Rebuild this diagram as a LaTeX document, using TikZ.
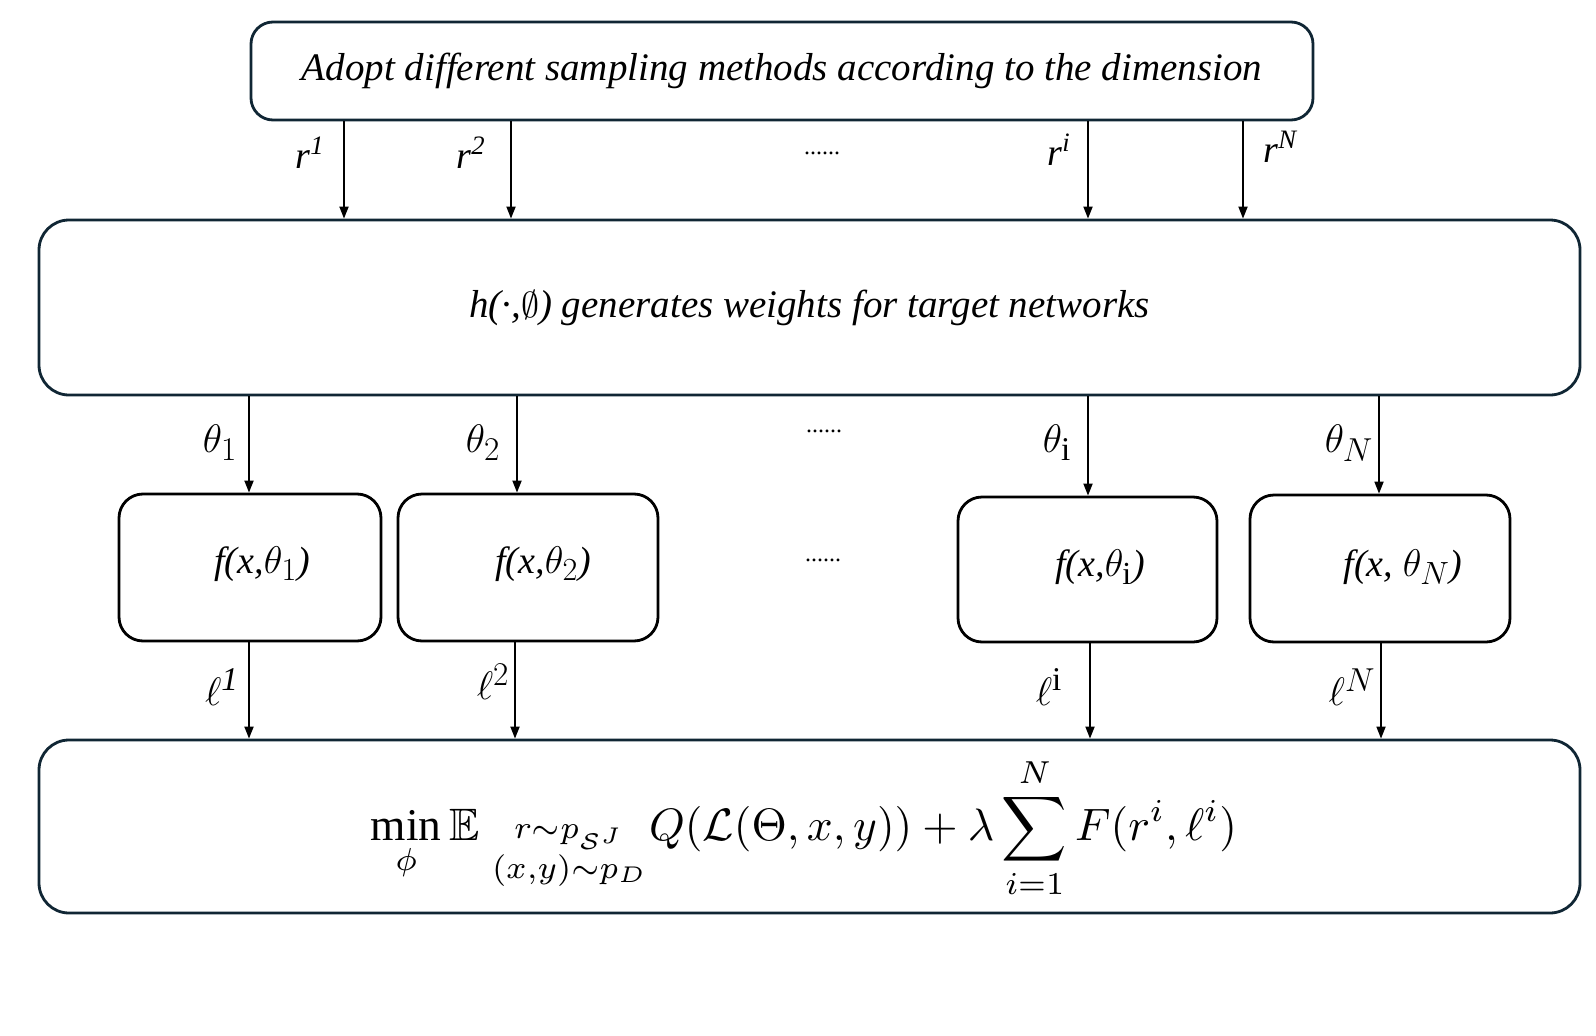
\RequirePackage{fix-cm}
\documentclass[tikz,border=0pt]{standalone}
\usepackage{amsmath,amssymb}
\usepackage{graphicx}
\usepackage{fontspec}
\setmainfont{Liberation Serif}
\usetikzlibrary{arrows.meta,calc}
\definecolor{navy}{RGB}{16,38,52}
\newcommand{\mymath}[2]{\scalebox{#1}{\fontsize{24.88}{30}\selectfont$#2$}}
\begin{document}
\begin{tikzpicture}[x=1pt,y=-1pt,
  bigbox/.style={draw=navy,line width=2.8pt,rounded corners=22pt,inner sep=0pt},
  fbox/.style={draw=black,line width=2.8pt,rounded corners=24pt,inner sep=0pt,minimum width=260pt,minimum height=147pt},
  arr/.style={draw=black,line width=1.8pt,-{Triangle[length=12pt,width=9pt]}},
  lab/.style={inner sep=0pt,font=\fontsize{38}{44}\selectfont},
  dots/.style={inner sep=0pt,font=\fontsize{24}{28}\selectfont}]
\useasboundingbox (0,0) rectangle (1596,1036);
\fill[white] (0,0) rectangle (1596,1036);
% boxes
\node[bigbox,minimum width=1062pt,minimum height=98pt] (top) at (782,71)
  {\fontsize{39}{46}\selectfont\itshape Adopt different sampling methods according to the dimension};
\node[bigbox,rounded corners=30pt,minimum width=1541pt,minimum height=175pt] (mid) at (809.5,307.5)
  {\fontsize{39}{46}\selectfont\itshape h(·,\mymath{1.45}{\emptyset}) generates weights for target networks};
\node[bigbox,rounded corners=30pt,minimum width=1541pt,minimum height=173pt] (bot) at (809.5,826.5) {};
\node[inner sep=0pt] (eq) at (804,828) {\resizebox{866pt}{!}{$\displaystyle \min_{\phi}\mathbb{E}\;_{\substack{r\sim p_{\mathcal{S}^J}\\ (x,y)\sim p_D}} Q(\mathcal{L}(\Theta,x,y))+\lambda\sum_{i=1}^{N}F(r^i,\ell^i)$}};
\node[fbox,minimum width=262pt] (f1) at (250,567.5) {};
\node[fbox] (f2) at (528,567.5) {};
\node[fbox,minimum width=259pt,minimum height=145pt] (fi) at (1087.5,569.5) {};
\node[fbox] (fN) at (1380,568.5) {};
% f texts
\node[lab] (tf1) at (262,564) {\itshape f(x,\mymath{1.55}{\theta_1})};
\node[lab] (tf2) at (543,564) {\itshape f(x,\mymath{1.55}{\theta_2})};
\node[lab] (tfi) at (1100,567) {\itshape f(x,\mymath{1.55}{\theta_{\mathrm{i}}})};
\node[lab] (tfN) at (1403,567) {\itshape f(x, \mymath{1.55}{\theta_N})};
% column coordinates
\coordinate (ra) at (344,0);
\coordinate (rb) at (511,0);
\coordinate (rc) at (1088,0);
\coordinate (rd) at (1243,0);
\coordinate (ta) at (249,0);
\coordinate (tb) at (517,0);
\coordinate (tc) at (1088,0);
\coordinate (td) at (1379,0);
\coordinate (la) at (249,0);
\coordinate (lb) at (515,0);
\coordinate (lc) at (1090,0);
\coordinate (ld) at (1381,0);
% arrows top -> mid
\draw[arr] (top.south -| ra) -- (mid.north -| ra);
\draw[arr] (top.south -| rb) -- (mid.north -| rb);
\draw[arr] (top.south -| rc) -- (mid.north -| rc);
\draw[arr] (top.south -| rd) -- (mid.north -| rd);
% arrows mid -> f
\draw[arr] (mid.south -| ta) -- (f1.north -| ta);
\draw[arr] (mid.south -| tb) -- (f2.north -| tb);
\draw[arr] (mid.south -| tc) -- (fi.north -| tc);
\draw[arr] (mid.south -| td) -- (fN.north -| td);
% arrows f -> bot
\draw[arr] (f1.south -| la) -- (bot.north -| la);
\draw[arr] (f2.south -| lb) -- (bot.north -| lb);
\draw[arr] (fi.south -| lc) -- (bot.north -| lc);
\draw[arr] (fN.south -| ld) -- (bot.north -| ld);
% labels r
\node[lab] (r1) at (310,153) {\itshape r\textsuperscript{1}};
\node[lab] (r2) at (471,153) {\itshape r\textsuperscript{2}};
\node[dots] (d1) at (822,153) {......};
\node[lab] (ri) at (1059,150) {\itshape r\textsuperscript{i}};
\node[lab] (rN) at (1280,147) {\itshape r\textsuperscript{N}};
% theta labels
\node[lab] (th1) at (220,443) {\mymath{1.6}{\theta_1}};
\node[lab] (th2) at (483,443) {\mymath{1.6}{\theta_2}};
\node[dots] (d2) at (824,431) {......};
\node[lab] (thi) at (1057,443) {\mymath{1.6}{\theta_{\mathrm{i}}}};
\node[lab] (thN) at (1349,443) {\mymath{1.6}{\theta_N}};
\node[dots] (d3) at (823,560) {......};
% ell labels
\node[lab] (l1) at (222,687) {\mymath{1.6}{\ell^{\mathit{1}}}};
\node[lab] (l2) at (493,682) {\mymath{1.6}{\ell^{2}}};
\node[lab] (li) at (1049,687) {\mymath{1.6}{\ell^{\mathrm{i}}}};
\node[lab] (lN) at (1352,687) {\mymath{1.6}{\ell^{N}}};
\end{tikzpicture}
\end{document}
